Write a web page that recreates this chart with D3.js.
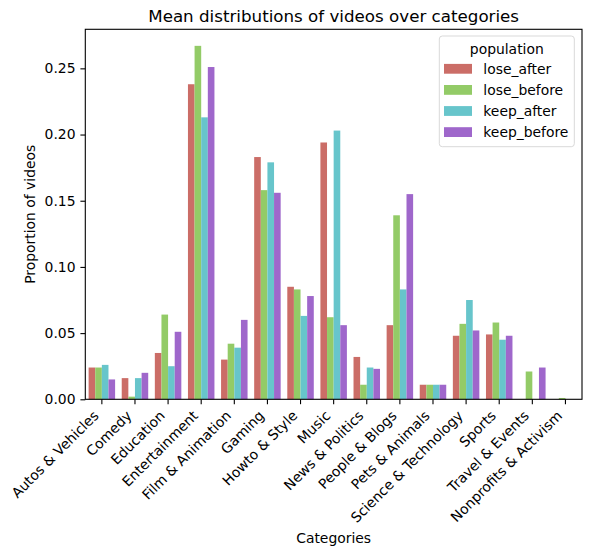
<!DOCTYPE html>
<html>
<head>
<meta charset="utf-8">
<script src="https://cdn.jsdelivr.net/npm/d3@7"></script>
<style>
  body { margin: 0; background: #fff; }
  text { font-family: "DejaVu Sans", sans-serif; fill: #000; }
</style>
</head>
<body>
<div id="wrapper"></div>
<script>
// categories on the x axis
const categories = ["Autos & Vehicles", "Comedy", "Education", "Entertainment", "Film & Animation",
    "Gaming", "Howto & Style", "Music", "News & Politics", "People & Blogs", "Pets & Animals",
    "Science & Technology", "Sports", "Travel & Events", "Nonprofits & Activism"]

const populations = ["lose_after", "lose_before", "keep_after", "keep_before"]

// mean proportion per category
const lose_after  = [0.024, 0.016, 0.035, 0.238, 0.030, 0.183, 0.085, 0.194, 0.032, 0.056, 0.011, 0.048, 0.049, 0.000, 0.000]
const lose_before = [0.024, 0.002, 0.064, 0.267, 0.042, 0.158, 0.083, 0.062, 0.011, 0.139, 0.011, 0.057, 0.058, 0.021, 0.001]
const keep_after  = [0.026, 0.016, 0.025, 0.213, 0.039, 0.179, 0.063, 0.203, 0.024, 0.083, 0.011, 0.075, 0.045, 0.000, 0.000]
const keep_before = [0.015, 0.020, 0.051, 0.251, 0.060, 0.156, 0.078, 0.056, 0.023, 0.155, 0.011, 0.052, 0.048, 0.024, 0.000]

const yTicks = [0, 0.05, 0.10, 0.15, 0.20, 0.25]

const seriesValues = [lose_after, lose_before, keep_after, keep_before]
const colors = ["#cb6d67", "#93cb67", "#67c5cb", "#9f67cb"]

const dataset = []
categories.forEach(function(c, i) {
    populations.forEach(function(p, j) {
        dataset.push({cat: c, pop: p, value: seriesValues[j][i]})
    })
})

const W = 591, H = 555
const fs = 13.9
const plot = {left: 85.3, right: 582, top: 29.3, bottom: 399.3}
const tickLen = 4.9, tickPad = 4.9

const svg = d3.select("#wrapper")
    .append("svg")
    .attr("width", W)
    .attr("height", H)

const x = d3.scaleBand()
    .domain(categories)
    .range([plot.left, plot.right])
    .padding(0)

// seaborn uses 80% of each band for the hue group
const xInner = d3.scaleBand()
    .domain(populations)
    .range([x.bandwidth() * 0.1, x.bandwidth() * 0.9])

const y = d3.scaleLinear()
    .domain([0, 0.2795])
    .range([plot.bottom, plot.top])

const color = d3.scaleOrdinal().domain(populations).range(colors)

// bars
svg.append("g")
    .selectAll("rect")
    .data(dataset)
    .enter()
    .append("rect")
        .attr("x", function(d) { return x(d.cat) + xInner(d.pop) })
        .attr("y", function(d) { return y(d.value) })
        .attr("width", xInner.bandwidth())
        .attr("height", function(d) { return y(0) - y(d.value) })
        .style("fill", function(d) { return color(d.pop) })

// y axis
const yAxis = svg.append("g")
    .attr("transform", `translate(${plot.left},0)`)
    .call(d3.axisLeft(y).tickValues(yTicks).tickFormat(d3.format(".2f"))
        .tickSize(tickLen).tickPadding(tickPad))
yAxis.select(".domain").remove()
yAxis.selectAll("line").attr("stroke", "#000").attr("stroke-width", 1.1)
yAxis.selectAll("text").style("font-size", fs + "px").style("font-family", "DejaVu Sans")

// x axis
const xAxis = svg.append("g")
    .attr("transform", `translate(0,${plot.bottom})`)
    .call(d3.axisBottom(x).tickSize(tickLen).tickFormat(""))
xAxis.select(".domain").remove()
xAxis.selectAll("line").attr("stroke", "#000").attr("stroke-width", 1.1)

// rotated tick labels, right edge of the rotated box at the tick
const asc = 0.76 * fs, desc = 0.24 * fs
svg.append("g")
    .selectAll("text")
    .data(categories)
    .enter()
    .append("text")
        .attr("transform", function(d) {
            const tx = x(d) + x.bandwidth() / 2 - desc * Math.SQRT1_2
            const ty = plot.bottom + tickLen + tickPad + asc * Math.SQRT1_2
            return `translate(${tx},${ty}) rotate(-45)`
        })
        .attr("text-anchor", "end")
        .style("font-size", fs + "px")
        .text(function(d) { return d })

// spines
svg.append("rect")
    .attr("x", plot.left)
    .attr("y", plot.top)
    .attr("width", plot.right - plot.left)
    .attr("height", plot.bottom - plot.top)
    .attr("fill", "none")
    .attr("stroke", "#000")
    .attr("stroke-width", 1.1)

// title + axis labels
svg.append("text")
    .attr("x", (plot.left + plot.right) / 2)
    .attr("y", 22)
    .attr("text-anchor", "middle")
    .style("font-size", "16.7px")
    .text("Mean distributions of videos over categories")

svg.append("text")
    .attr("x", (plot.left + plot.right) / 2)
    .attr("y", 542.7)
    .attr("text-anchor", "middle")
    .style("font-size", fs + "px")
    .text("Categories")

svg.append("text")
    .attr("transform", `translate(35,${(plot.top + plot.bottom) / 2}) rotate(-90)`)
    .attr("text-anchor", "middle")
    .style("font-size", fs + "px")
    .text("Proportion of videos")

// legend
const legend = svg.append("g")
legend.append("rect")
    .attr("x", 439.3)
    .attr("y", 36)
    .attr("width", 135)
    .attr("height", 110.7)
    .attr("rx", 3)
    .attr("fill", "#fff")
    .attr("fill-opacity", 0.8)
    .attr("stroke", "#d9d9d9")
    .attr("stroke-width", 1)
legend.append("text")
    .attr("x", 506.8)
    .attr("y", 53.5)
    .attr("text-anchor", "middle")
    .style("font-size", fs + "px")
    .text("population")
populations.forEach(function(p, i) {
    const cy = 68.8 + i * 21.1
    legend.append("rect")
        .attr("x", 444)
        .attr("y", cy - 4.9)
        .attr("width", 28)
        .attr("height", 9.8)
        .style("fill", color(p))
    legend.append("text")
        .attr("x", 483.3)
        .attr("y", cy + 5)
        .style("font-size", fs + "px")
        .text(p)
})
</script>
</body>
</html>
